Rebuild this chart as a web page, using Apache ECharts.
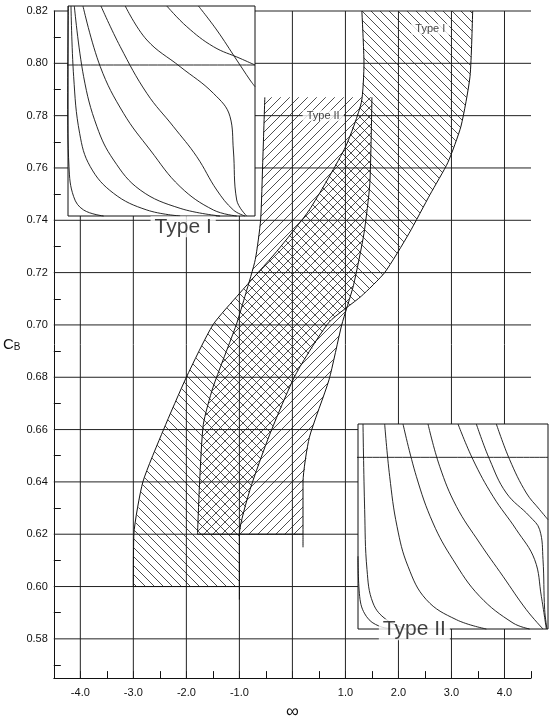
<!DOCTYPE html>
<html>
<head>
<meta charset="UTF-8">
<title>CB chart</title>
<script src="https://cdn.jsdelivr.net/npm/echarts@6/dist/echarts.min.js"></script>
<style>html,body{margin:0;padding:0;background:#fff}</style>
</head>
<body>
<div id="chart" style="width:553px;height:726px"></div>
<script>
// grid and tick values
var xGrid = [-4, -3, -2, -1, 0, 1, 2, 3, 4];
var yGrid = [0.58, 0.60, 0.62, 0.64, 0.66, 0.68, 0.70, 0.72, 0.74, 0.76, 0.78, 0.80, 0.82];
var yMinor = [0.57, 0.59, 0.61, 0.63, 0.65, 0.67, 0.69, 0.71, 0.73, 0.75, 0.77, 0.79, 0.81];

// band boundaries
var t1Left = [[-3.0,0.60],[-2.99,0.62],[-2.82,0.64],[-2.43,0.66],[-2.0,0.68],[-1.5,0.70],[-1.0,0.712],[-0.3,0.728],[0.32,0.744],[1.0,0.768],[1.3,0.785],[1.35,0.80],[1.31,0.82]];
var t1Right = [[-1.0,0.60],[-1.0,0.62],[-0.8,0.637],[-0.43,0.658],[0.06,0.681],[0.69,0.701],[1.3,0.711],[1.74,0.72],[2.2,0.735],[2.6,0.75],[2.93,0.762],[3.18,0.776],[3.35,0.795],[3.4,0.82]];
var t2Left = [[-1.79,0.62],[-1.75,0.64],[-1.68,0.662],[-1.5,0.676],[-1.06,0.70],[-0.88,0.712],[-0.7,0.725],[-0.6,0.74],[-0.56,0.762],[-0.52,0.787]];
var t2Right = [[0.2,0.62],[0.2,0.64],[0.32,0.657],[0.69,0.679],[0.93,0.70],[1.15,0.715],[1.35,0.735],[1.46,0.754],[1.5,0.787]];

// inset curves (inset pixel units)
var inset1 = [
  [[84,18],[82,300],[86,500],[100,590],[130,630],[190,648]],
  [[92,18],[100,230],[118,400],[150,500],[220,580],[320,630],[420,648]],
  [[102,18],[130,230],[170,380],[220,480],[300,570],[420,625],[540,648]],
  [[128,18],[180,200],[250,340],[330,450],[420,560],[520,630],[590,648]],
  [[182,18],[240,140],[320,280],[400,380],[470,470],[530,570],[580,630],[615,648]],
  [[255,18],[320,120],[420,200],[520,280],[570,350],[580,450],[590,600],[620,648]],
  [[380,18],[440,80],[520,140],[600,175],[645,195]],
  [[475,18],[530,90],[590,180],[630,240],[645,260]]
];
var inset2 = [
  [[55,440],[60,560],[80,620],[120,650],[170,658]],
  [[70,43],[75,300],[82,480],[100,580],[140,630],[200,658]],
  [[135,43],[150,200],[172,350],[205,470],[260,570],[350,630],[440,658]],
  [[190,43],[230,200],[280,340],[340,450],[420,560],[520,640],[570,658]],
  [[265,43],[300,170],[350,290],[420,400],[490,500],[560,600],[610,658]],
  [[355,43],[400,150],[460,260],[530,360],[585,450],[605,560],[620,658]],
  [[410,43],[450,150],[500,250],[570,320],[600,360],[610,450],[615,600],[622,658]],
  [[470,43],[510,150],[560,250],[600,300],[625,330]]
];

function hatch(dir) {
  var s = 9, c = document.createElement('canvas');
  c.width = s; c.height = s;
  var g = c.getContext('2d');
  g.strokeStyle = '#222'; g.lineWidth = 0.8;
  g.beginPath();
  if (dir > 0) { g.moveTo(0, s); g.lineTo(s, 0); g.moveTo(-1, 1); g.lineTo(1, -1); g.moveTo(s - 1, s + 1); g.lineTo(s + 1, s - 1); }
  else { g.moveTo(0, 0); g.lineTo(s, s); g.moveTo(s - 1, -1); g.lineTo(s + 1, 1); g.moveTo(-1, s - 1); g.lineTo(1, s + 1); }
  g.stroke();
  return { image: c, repeat: 'repeat' };
}

function band(left, right, pattern) {
  return {
    type: 'custom', z: 3, silent: true, data: [0],
    renderItem: function (p, api) {
      var pts = left.concat(right.slice().reverse()).map(function (d) { return api.coord(d); });
      return { type: 'polygon', shape: { points: pts }, style: { fill: pattern } };
    }
  };
}
function edge(d) {
  return { type: 'line', z: 4, data: d, symbol: 'none', smooth: 0.2, lineStyle: { color: '#111', width: 1 } };
}
function gridLines(vals, vertical) {
  return {
    type: 'custom', z: 2, silent: true, data: vals,
    renderItem: function (p, api) {
      var v = api.value(0), a, b;
      if (vertical) { a = api.coord([v, 0.565]); b = api.coord([v, 0.82]); }
      else { a = api.coord([-4.5, v]); b = api.coord([4.5, v]); }
      return { type: 'line', shape: { x1: a[0], y1: a[1], x2: b[0], y2: b[1] }, style: { stroke: '#222', lineWidth: 1 } };
    }
  };
}
function insetBox(idx, x0, x1, y0, y1) {
  return {
    type: 'custom', z: 6, silent: true, xAxisIndex: idx, yAxisIndex: idx, data: [0],
    renderItem: function (p, api) {
      var a = api.coord([x0, y0]), b = api.coord([x1, y1]);
      return { type: 'rect', shape: { x: a[0], y: a[1], width: b[0] - a[0], height: b[1] - a[1] }, style: { fill: '#fff', stroke: '#111', lineWidth: 1 } };
    }
  };
}
function insetCurve(idx, d) {
  return { type: 'line', z: 7, xAxisIndex: idx, yAxisIndex: idx, data: d, symbol: 'none', smooth: 0.4, clip: false, lineStyle: { color: '#111', width: 0.9 } };
}
function textAt(x, y, t, size) {
  return {
    type: 'scatter', z: 8, symbolSize: 0, data: [[x, y]], silent: true,
    label: { show: true, formatter: t, position: 'inside', color: '#111', fontSize: size, fontFamily: 'Liberation Sans', backgroundColor: '#fff', padding: [0, 4] }
  };
}

var chart = echarts.init(document.getElementById('chart'));
var series = [gridLines(xGrid, true), gridLines(yGrid, false),
  band(t1Left, t1Right, hatch(-1)), band(t2Left, t2Right, hatch(1)),
  edge(t1Left), edge([[-1.0,0.595]].concat(t1Right)), edge(t2Left), edge([[0.2,0.615]].concat(t2Right)),
  edge([[-3.0,0.60],[-1.0,0.60]]), edge([[-1.79,0.62],[0.2,0.62]]),
  insetBox(1, 83, 645, 18, 648), insetBox(2, 55, 625, 43, 658),
  insetCurve(1, [[60,195],[645,195]]), insetCurve(2, [[25,143],[625,143]]),
  textAt(2.6, 0.813, 'Type I', 11), textAt(0.58, 0.780, 'Type II', 11),
  textAt(-2.06, 0.7375, 'Type I', 21), textAt(2.30, 0.5835, 'Type II', 21)
];
inset1.forEach(function (d) { series.push(insetCurve(1, d)); });
inset2.forEach(function (d) { series.push(insetCurve(2, d)); });

var hid = { show: false };
chart.setOption({
  animation: false,
  grid: [
    { left: 49, right: 22, top: 11, bottom: 33 },
    { left: 68, top: 6, width: 187, height: 210 },
    { left: 358, top: 424, width: 190, height: 205 }
  ],
  xAxis: [
    { type: 'value', min: -4.5, max: 4.5, interval: 0.5, splitLine: hid,
      axisLine: { onZero: false, lineStyle: { color: '#111' } },
      axisTick: { inside: true, length: 7, lineStyle: { color: '#111' } },
      axisLabel: { color: '#111', fontSize: 11, fontFamily: 'Liberation Sans', margin: 9,
        formatter: function (v) { return (v % 1 === 0 && v !== 0) ? v.toFixed(1) : ''; } },
      name: '∞', nameLocation: 'middle', nameGap: 18, nameTextStyle: { fontSize: 18, color: '#111' } },
    { type: 'value', gridIndex: 1, min: 83, max: 645, show: false },
    { type: 'value', gridIndex: 2, min: 55, max: 625, show: false }
  ],
  yAxis: [
    { type: 'value', min: 0.565, max: 0.82, splitLine: hid,
      axisLine: { show: true, onZero: false, lineStyle: { color: '#111' } },
      axisTick: { show: true, inside: true, length: 7, customValues: yMinor, lineStyle: { color: '#111' } },
      axisLabel: { customValues: yGrid, color: '#111', fontSize: 11, fontFamily: 'Liberation Sans', margin: 6,
        formatter: function (v) { return v.toFixed(2); } },
      name: '{a|C}{b|B}', nameLocation: 'middle', nameGap: 20, nameRotate: 0,
      nameTextStyle: { rich: { a: { fontSize: 15, color: '#111' }, b: { fontSize: 10, color: '#111', padding: [6, 0, 0, 0] } } } },
    { type: 'value', gridIndex: 1, min: 18, max: 648, inverse: true, show: false },
    { type: 'value', gridIndex: 2, min: 43, max: 658, inverse: true, show: false }
  ],
  series: series
});
</script>
</body>
</html>
